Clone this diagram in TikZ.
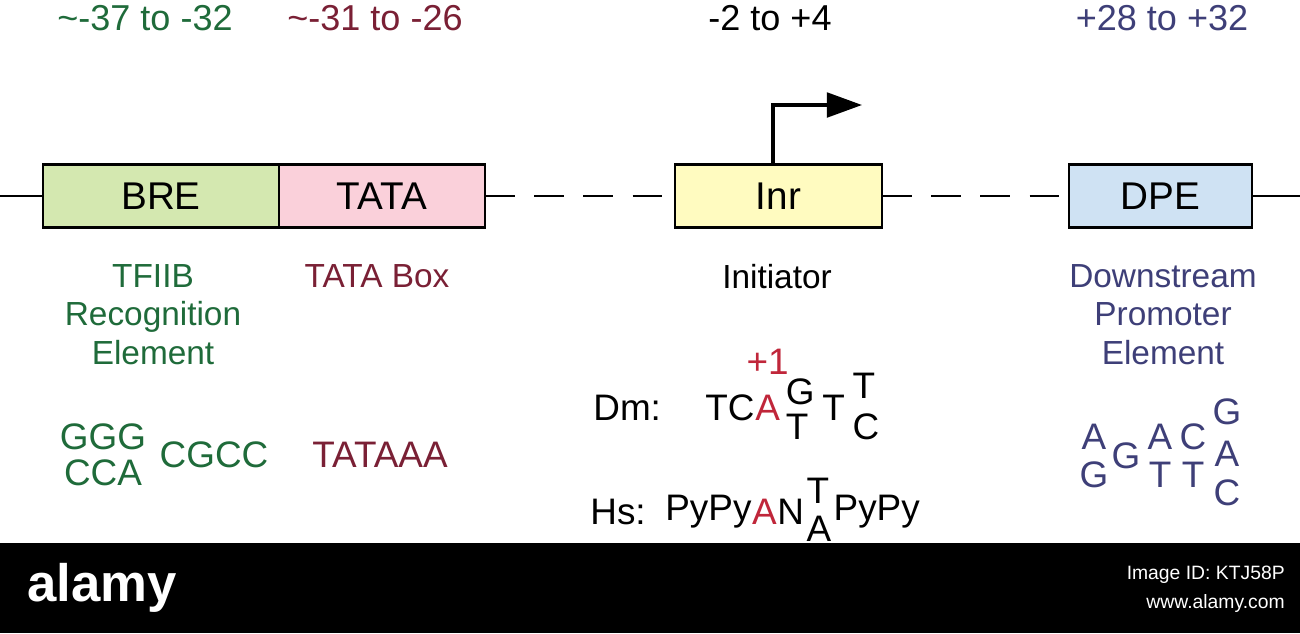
\documentclass[tikz,border=0pt]{standalone}
\usepackage{fontspec}
\setmainfont{Liberation Sans}
\usetikzlibrary{arrows.meta}
\definecolor{gr}{HTML}{1F6B3A}
\definecolor{mr}{HTML}{7A2035}
\definecolor{nv}{HTML}{3E3F78}
\definecolor{redA}{HTML}{C0263A}
\begin{document}
\begin{tikzpicture}[x=0.02cm,y=-0.02cm]
\tikzset{box/.style={draw=black,line width=1.6pt,minimum height=1.26cm,inner sep=0pt,font=\fontsize{22}{24}\selectfont},
lab/.style={font=\fontsize{19}{20}\selectfont,align=center,inner sep=0pt},
seq/.style={font=\fontsize{21}{22}\selectfont,inner sep=0pt},
top/.style={font=\fontsize{20.5}{22}\selectfont,inner sep=0pt},
dsh/.style={line width=1.6pt,dash pattern=on 17pt off 11pt}}
\useasboundingbox (0,0) rectangle (1300,633);
\fill[white] (0,0) rectangle (1300,633);
% line
\coordinate (l0) at (0,196); \coordinate (l1) at (1300,196);
\draw[line width=1.6pt] (l0) -- (43,196);
\draw[dsh] (485,196) -- (675,196);
\draw[dsh] (882,196) -- (1069,196);
\draw[line width=1.6pt] (1252,196) -- (l1);
% boxes
\node[box,fill={rgb,255:red,212;green,232;blue,176},minimum width=4.72cm] (bre) at (161,196) {BRE};
\node[box,fill={rgb,255:red,250;green,208;blue,218},minimum width=4.12cm] (tata) at (382,196) {TATA};
\node[box,fill={rgb,255:red,255;green,251;blue,192},minimum width=4.14cm] (inr) at (778.5,196) {Inr};
\node[box,fill={rgb,255:red,207;green,226;blue,243},minimum width=3.66cm] (dpe) at (1160.5,196) {DPE};
% arrow
\coordinate (ar) at (862,105);
\draw[line width=2pt,-{Triangle[length=20pt,width=14pt]}] (773,165) -- (773,105) -- (ar);
% top labels
\node[top,text=gr] (t1) at (145,18) {\textasciitilde-37 to -32};
\node[top,text=mr] (t2) at (375,18) {\textasciitilde-31 to -26};
\node[top] (t3) at (770,18) {-2 to +4};
\node[top,text=nv] (t4) at (1162,18) {+28 to +32};
% lower labels
\node[lab,text=gr,anchor=north] (b1) at (153,264) {TFIIB\\[2pt]Recognition\\[2pt]Element};
\node[lab,text=mr,anchor=north] (b2) at (377,264) {TATA Box};
\node[lab,anchor=north] (b3) at (777,264) {Initiator};
\node[lab,text=nv,anchor=north] (b4) at (1163,264) {Downstream\\[2pt]Promoter\\[2pt]Element};
% BRE seq
\node[seq,text=gr] (s1) at (103,437) {GGG};
\node[seq,text=gr] (s2) at (103,473) {CCA};
\node[seq,text=gr] (s3) at (214,455) {CGCC};
\node[seq,text=mr] (s4) at (380,455) {TATAAA};
% Dm
\node[seq,anchor=west] (dm) at (593,408) {Dm:};
\node[seq,anchor=west] (d0) at (705,408) {TC};
\node[seq,text=redA,anchor=west] (d1) at (d0.east) {A};
\node[seq,text=redA] (p1) at ([yshift=0.92cm]d1.center) {+1};
\node[seq,anchor=west] (d2) at ([xshift=3pt,yshift=0.33cm]d1.east) {G};
\node[seq,anchor=west] (d3) at ([xshift=3pt,yshift=-0.38cm]d1.east) {T};
\node[seq,anchor=west] (d4) at ([xshift=4pt]d2.east |- d1.east) {T};
\node[seq,anchor=west] (d5) at ([xshift=4pt,yshift=0.45cm]d4.east) {T};
\node[seq,anchor=west] (d6) at ([xshift=4pt,yshift=-0.38cm]d4.east) {C};
% Hs
\node[seq,anchor=west] (hs) at (590,512) {Hs:};
\node[seq,anchor=west] (h0) at (665,512) {PyPy};
\node[seq,text=redA,anchor=west] (h1) at (h0.east) {A};
\node[seq,anchor=west] (h2) at (h1.east) {N};
\node[seq,anchor=west] (h3) at ([xshift=1pt,yshift=0.42cm]h2.east) {T};
\node[seq,anchor=west] (h4) at ([xshift=1pt,yshift=-0.33cm]h2.east) {A};
\node[seq,anchor=west] (h5) at ([xshift=1pt]h4.east |- h2.east) {PyPy};
% DPE seq
\node[seq,text=nv] (e1) at (1094,437) {A};
\node[seq,text=nv] (e2) at (1094,475) {G};
\node[seq,text=nv] (e3) at (1126,456) {G};
\node[seq,text=nv] (e4) at (1160,437) {A};
\node[seq,text=nv] (e5) at (1160,475) {T};
\node[seq,text=nv] (e6) at (1193,437) {C};
\node[seq,text=nv] (e7) at (1193,475) {T};
\node[seq,text=nv] (e8) at (1227,412) {G};
\node[seq,text=nv] (e9) at (1227,454) {A};
\node[seq,text=nv] (e10) at (1227,493) {C};
% watermark band
\fill[black] (0,543) rectangle (1300,633);
\node[text=white,font=\fontsize{30}{30}\selectfont\bfseries,inner sep=0pt] (al) at (102,588) {alamy};
\node[text=white,font=\fontsize{11}{12}\selectfont,anchor=east,inner sep=0pt] (id) at (1285,575) {Image ID: KTJ58P};
\node[text=white,font=\fontsize{11}{12}\selectfont,anchor=east,inner sep=0pt] (ww) at (1285,603) {www.alamy.com};
\end{tikzpicture}
\end{document}
